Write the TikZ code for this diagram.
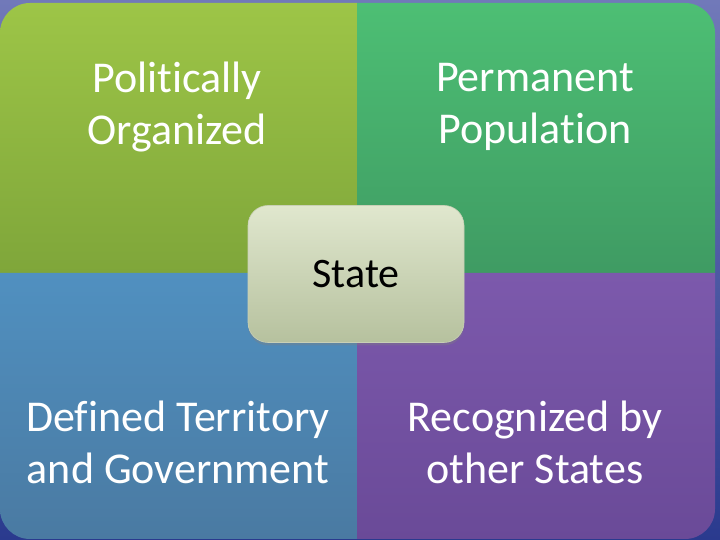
\documentclass[tikz,border=0pt]{standalone}
\usepackage{fontspec}
\setmainfont[Ligatures=NoCommon]{Carlito}
\usetikzlibrary{shadows}

\definecolor{bgtop}{HTML}{7179B9}
\definecolor{bgbot}{HTML}{2A3A8E}
\definecolor{olivetop}{HTML}{9DC547}
\definecolor{olivebot}{HTML}{7FA63A}
\definecolor{greentop}{HTML}{4DBF74}
\definecolor{greenbot}{HTML}{3F9B63}
\definecolor{bluetop}{HTML}{5090C0}
\definecolor{bluebot}{HTML}{4A7AA2}
\definecolor{purptop}{HTML}{7C59AC}
\definecolor{purpbot}{HTML}{6A4A98}
\definecolor{hubtop}{HTML}{E0E7CE}
\definecolor{hubbot}{HTML}{B6C19E}
\definecolor{hubrim}{HTML}{C9D0B6}

\begin{document}
\begin{tikzpicture}[x=1pt,y=1pt,
    quad/.style={text=white,align=center,font=\fontsize{44}{52}\selectfont},
    hub/.style={rounded corners=20pt,minimum width=216pt,minimum height=137pt,
      top color=hubtop,bottom color=hubbot,draw=hubrim,line width=0.6pt,
      font=\fontsize{42}{50}\selectfont}]
	\useasboundingbox (0,0) rectangle (720,540);
	\shade[top color=bgtop,bottom color=bgbot] (0,0) rectangle (720,540); % Background

	% Quadrant top left
	\shade[top color=olivetop,bottom color=olivebot] (0,267) -- (0,507) arc[start angle=180,end angle=90,radius=30] -- (357,537) -- (357,267) -- cycle;
	\node[quad] (polit) at (177,433) {Politically\\Organized}; % Label top left

	% Quadrant top right
	\shade[top color=greentop,bottom color=greenbot] (357,267) -- (357,537) -- (685,537) arc[start angle=90,end angle=0,radius=30] -- (715,267) -- cycle;
	\node[quad] (perm) at (535,433) {Permanent\\Population}; % Label top right

	% Quadrant bottom left
	\shade[top color=bluetop,bottom color=bluebot] (0,267) -- (357,267) -- (357,1) -- (30,1) arc[start angle=270,end angle=180,radius=30] -- cycle;
	\node[quad] (terr) at (178,98) {Defined Territory\\and Government}; % Label bottom left

	% Quadrant bottom right
	\shade[top color=purptop,bottom color=purpbot] (357,267) -- (715,267) -- (715,31) arc[start angle=0,end angle=-90,radius=30] -- (357,1) -- cycle;
	\node[quad] (recog) at (535,98) {Recognized by\\other States}; % Label bottom right

	% Centre box
	\node[hub,drop shadow={opacity=0.35,shadow xshift=0pt,shadow yshift=-3pt}] (state) at (356,266) {State};
\end{tikzpicture}
\end{document}
